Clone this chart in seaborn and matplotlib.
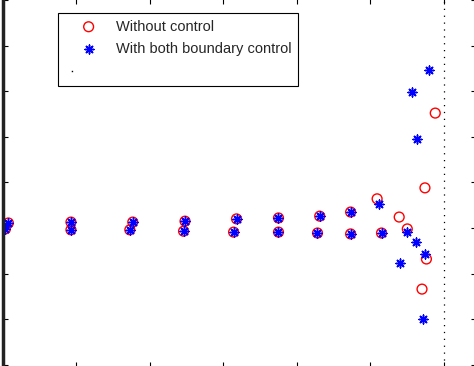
import numpy as np
import pandas as pd
import seaborn as sns
import matplotlib.pyplot as plt
from matplotlib.lines import Line2D

# ------------------------------- data ------------------------------- #
x_without = [0.04, 0.08, 0.93, 0.93, 1.77, 1.73, 2.48, 2.46, 3.18, 3.14, 3.75, 3.75,
             4.31, 4.28, 4.73, 4.73, 5.09, 5.15, 5.39, 5.50, 5.76, 5.70, 5.74, 5.88]
y_without = [-0.02, 0.11, 0.13, -0.04, 0.13, -0.04, 0.15, -0.07, 0.20, -0.09, 0.22, -0.09,
             0.26, -0.11, 0.35, -0.13, 0.64, -0.11, 0.24, -0.02, -0.68, -1.34, 0.88, 2.52]

x_with = [0.04, 0.08, 0.93, 0.93, 1.77, 1.73, 2.48, 2.46, 3.18, 3.14, 3.75, 3.75,
          4.31, 4.28, 4.73, 4.73, 5.12, 5.15, 5.50, 5.62, 5.74, 5.40, 5.72, 5.80, 5.57, 5.63]
y_with = [-0.02, 0.11, 0.13, -0.04, 0.13, -0.04, 0.15, -0.07, 0.20, -0.09, 0.22, -0.09,
          0.26, -0.11, 0.35, -0.13, 0.53, -0.11, -0.09, -0.31, -0.57, -0.77, -2.00, 3.47, 2.98, 1.95]

x_asymptote = 6.0
labels = ['Without control', 'With both boundary control', '']

# ------------------------------ setting ----------------------------- #
W, H = 474, 366
# pixel scale of the original axes
x_px0, x_ppu = 1.2, 73.8       # pixel of x=0, pixels per unit
y_px0, y_ppu = 228.0, 45.6     # pixel of y=0, pixels per unit
L, R, T, B = 2.5, 475.5, -1.0, 367.0   # axes box in pixels

sns.set_style("white")
plt.rcParams['font.family'] = ['Liberation Sans', 'DejaVu Sans']

fig = plt.figure(figsize=(W / 100, H / 100), dpi=100)
ax = fig.add_axes([L / W, 1 - B / H, (R - L) / W, (B - T) / H])

df_wo = pd.DataFrame({'x': x_without, 'y': y_without})
df_w = pd.DataFrame({'x': x_with, 'y': y_with})

sns.scatterplot(data=df_wo, x='x', y='y', ax=ax, marker='o', s=50,
                facecolor='none', edgecolor='#ff0000', linewidth=1.0)
sns.scatterplot(data=df_w, x='x', y='y', ax=ax, marker=(8, 2, 0), s=40,
                color='#0000ff', linewidth=1.1)
vline = ax.axvline(x_asymptote, color='k', lw=0.9, linestyle=(0, (1, 4.5)))

ax.set_xlim((L - x_px0) / x_ppu, (R - x_px0) / x_ppu)
ax.set_ylim((y_px0 - B) / y_ppu, (y_px0 - T) / y_ppu)
ax.set_xticks(np.arange(0, 7))
ax.set_yticks(np.arange(-3, 6))
ax.set(xlabel='', ylabel='')
ax.tick_params(direction='in', length=3.8, width=0.8, color='k',
               top=True, right=True, bottom=True, left=True,
               labelbottom=False, labelleft=False)
for side, sp in ax.spines.items():
    sp.set_color('#222222')
    sp.set_linewidth(2.5 if side == 'left' else 0.8)

# legend: third entry is the dotted line with no label
dot_handle = Line2D([], [], color='k', lw=1.0, linestyle=(96.5, (1, 100)))
handles = [ax.collections[0], ax.collections[1], dot_handle]
leg = ax.legend(handles, labels, loc='upper left',
                bbox_to_anchor=(58 / W, 1 - 13 / H), bbox_transform=fig.transFigure,
                borderaxespad=0, fontsize=10.5, frameon=True, fancybox=False,
                borderpad=0.45, handlelength=3.3, handletextpad=0.2,
                labelspacing=0.6, scatterpoints=1)
leg.get_frame().set_edgecolor('k')
leg.get_frame().set_linewidth(0.8)
leg.get_frame().set_alpha(1)

plt.savefig('out.png', dpi=100)
